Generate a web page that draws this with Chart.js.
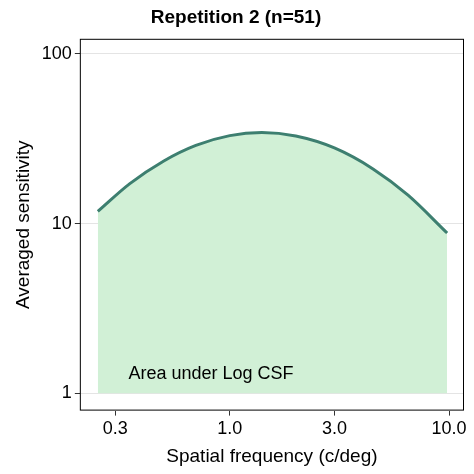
<!DOCTYPE html>
<html>
<head>
<script src="https://cdn.jsdelivr.net/npm/chart.js@4"></script>
<style>
  body { margin: 0; background: #fff; }
  #wrap { width: 474px; height: 474px; }
</style>
</head>
<body>
<div id="wrap"><canvas id="csfChart"></canvas></div>
<script>
// --- Data ---
const freqs = [0.25, 0.35, 0.5, 0.7, 1.0, 1.4, 2.0, 3.0, 4.5, 6.5, 9.8];
const sensitivity = [11.8, 17.2, 23.4, 28.9, 33.0, 34.4, 32.8, 27.9, 21.0, 14.7, 8.8];
const xTicks = [0.3, 1, 3, 10];
const yTicks = [1, 10, 100];

const FONT = "'Liberation Sans', Arial, sans-serif";

// draws the label inside the area and the panel border
const extras = {
  id: "extras",
  afterDatasetsDraw(chart) {
    const { ctx, chartArea: a, scales } = chart;
    ctx.save();
    ctx.fillStyle = "#000";
    ctx.font = "18px " + FONT;
    ctx.textBaseline = "alphabetic";
    ctx.fillText("Area under Log CSF", scales.x.getPixelForValue(0.345), scales.y.getPixelForValue(1.22));
    ctx.strokeStyle = "#000";
    ctx.lineWidth = 1;
    ctx.strokeRect(a.left + 0.5, a.top + 0.5, a.right - a.left - 1, a.bottom - a.top - 1);
    ctx.restore();
  },
};

new Chart(document.getElementById("csfChart"), {
  type: "line",
  data: {
    datasets: [
      {
        data: freqs.map((f, i) => ({ x: f, y: sensitivity[i] })),
        borderColor: "#3d7f70",
        borderWidth: 3,
        backgroundColor: "#d1f0d6",
        fill: { value: 1 },
        pointRadius: 0,
        cubicInterpolationMode: "monotone",
      },
    ],
  },
  options: {
    responsive: true,
    maintainAspectRatio: false,
    animation: false,
    layout: { padding: { left: 8, right: 10, top: 4, bottom: 2 } },
    plugins: {
      legend: { display: false },
      tooltip: { enabled: false },
      title: {
        display: true,
        text: "Repetition 2 (n=51)",
        color: "#000",
        font: { family: FONT, size: 19, weight: "bold" },
        padding: { top: 2, bottom: 10 },
      },
    },
    scales: {
      x: {
        type: "logarithmic",
        min: 0.207,
        max: 11.7,
        afterBuildTicks: (s) => { s.ticks = xTicks.map((v) => ({ value: v })); },
        ticks: {
          color: "#000",
          font: { family: FONT, size: 18 },
          callback: (v) => Number(v).toFixed(1),
          maxRotation: 0,
        },
        grid: { drawOnChartArea: false, color: "#333", tickLength: 5 },
        border: { display: false },
        title: { display: true, text: "Spatial frequency (c/deg)", color: "#000", font: { family: FONT, size: 19 }, padding: { top: 2 } },
      },
      y: {
        type: "logarithmic",
        min: 0.79,
        max: 122.8,
        afterBuildTicks: (s) => { s.ticks = yTicks.map((v) => ({ value: v })); },
        ticks: {
          color: "#000",
          font: { family: FONT, size: 18 },
          callback: (v) => String(v),
        },
        grid: { color: "#e4e4e4", tickColor: "#333", tickLength: 5 },
        border: { display: false },
        title: { display: true, text: "Averaged sensitivity", color: "#000", font: { family: FONT, size: 19 } },
      },
    },
  },
  plugins: [extras],
});
</script>
</body>
</html>
